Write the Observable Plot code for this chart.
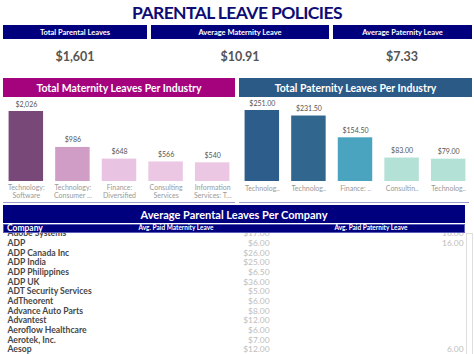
<!DOCTYPE html>
<html><head><meta charset="utf-8">
<script src="https://cdn.jsdelivr.net/npm/d3@7"></script>
<script src="https://cdn.jsdelivr.net/npm/@observablehq/plot@0.6"></script>
<style>
body{margin:0;width:474px;height:354px;overflow:hidden;background:#fff;font-family:Lato,"Noto Sans",sans-serif;position:relative}
.abs{position:absolute}
.bar{background:#00007f;color:#fff;font-weight:700;display:flex;align-items:center;justify-content:center}
.kpi{color:#555;font-weight:700;font-size:12.5px;text-align:center}
svg{display:block}
</style></head>
<body>
<div id="root"></div>
<script>
// ---- data ----
const kpiLabels = ["Total Parental Leaves", "Average Maternity Leave", "Average Paternity Leave"];
const kpiValues = ["$1,601", "$10.91", "$7.33"];

const matIndustries = ["Technology: Software", "Technology: Consumer ...", "Finance: Diversified", "Consulting Services", "Information Services: T..."];
const matLabels = ["Technology:\nSoftware", "Technology:\nConsumer ...", "Finance:\nDiversified", "Consulting\nServices", "Information\nServices: T..."];
const matValues = [2026, 986, 648, 566, 540];

const patIndustries = ["Technology: Software", "Technology: Consumer ...", "Finance: Diversified", "Consulting Services", "Technology: Other"];
const patLabels = ["Technolog..", "Technolog..", "Finance: ..", "Consultin..", "Technolog.."];
const patValues = [251.0, 231.5, 154.5, 83.0, 79.0];

const companies = ["Adobe Systems", "ADP", "ADP Canada Inc", "ADP India", "ADP Philippines", "ADP UK", "ADT Security Services", "AdTheorent", "Advance Auto Parts", "Advantest", "Aeroflow Healthcare", "Aerotek, Inc.", "Aesop"];
const avgMaternity = [17, 6, 26, 25, 6.5, 36, 5, 6, 8, 12, 6, 7, 12];
const avgPaternity = [16, 16, null, null, null, null, null, null, null, null, null, null, 6];

// ---- styles ----
const matPalette = ["#784878", "#d09dc6", "#e9c3e2", "#ebc7e4", "#ebc7e4"];
const patPalette = ["#2d5e8b", "#31668f", "#4ba4bf", "#b4e1d5", "#b4e1d5"];
const FONT = "Lato, 'Noto Sans', sans-serif";

const root = document.getElementById("root");
function div(style, html, cls) {
  const d = document.createElement("div");
  d.className = "abs " + (cls || "");
  Object.assign(d.style, style);
  d.innerHTML = html || "";
  root.appendChild(d);
  return d;
}

// Title
div({left:"0px", top:"2px", width:"474px", textAlign:"center", color:"#0d0d75", fontWeight:"700", fontSize:"17.5px", letterSpacing:"-0.6px"}, "PARENTAL LEAVE POLICIES");

// KPI bars
const kpiBoxes = [[3,147,75],[151,329,240],[333,472,402]];
kpiBoxes.forEach(([l,r,c],i) => {
  div({left:l+"px", top:"25px", width:(r-l)+"px", height:"14px", fontSize:"7.5px"}, kpiLabels[i], "bar");
  div({left:(c-60)+"px", top:"49px", width:"120px"}, kpiValues[i], "kpi");
});

// Chart headers
div({left:"3px", top:"78px", width:"232px", height:"19px", background:"#a5037d", fontSize:"10.5px"}, "Total Maternity Leaves Per Industry", "bar");
div({left:"239px", top:"78px", width:"233px", height:"19px", background:"#2c5a86", fontSize:"10.5px"}, "Total Paternity Leaves Per Industry", "bar");

function barChart(cats, labels, values, palette, fmt, left, marginTop, twoLine) {
  const data = cats.map((c,i) => ({cat:c, label:labels[i], value:values[i]}));
  const chart = Plot.plot({
    width: 238, height: 106,
    marginLeft: 3, marginRight: 3, marginTop: marginTop, marginBottom: 22,
    style: {fontFamily: FONT, background: "transparent", overflow: "visible"},
    x: {domain: cats, paddingInner: 0.26, paddingOuter: 0.12, round: false, axis: null},
    y: {domain: [0, d3.max(values)], axis: null},
    color: {domain: cats, range: palette},
    marks: [
      Plot.barY(data, {x: "cat", y: "value", fill: "cat"}),
      Plot.text(data, {x: "cat", y: "value", text: d => fmt(d.value), dy: -5, fontSize: 7, fill: "#555", lineAnchor: "bottom"}),
      Plot.text(data, {x: "cat", text: "label", frameAnchor: "bottom", dy: twoLine ? 3 : 4, lineAnchor: "top", fontSize: 7, fill: "#999", lineHeight: 1.15})
    ]
  });
  div({left:left+"px", top:"97px"}).appendChild(chart);
}
barChart(matIndustries, matLabels, matValues, matPalette, v => "$" + d3.format(",")(v), 0, 14, true);
barChart(patIndustries, patLabels, patValues, patPalette, v => "$" + d3.format(".2f")(v), 236, 13, false);

// bottom lines under charts
div({left:"3px", top:"202px", width:"232px", height:"1px", background:"#9c9ccf"});
div({left:"239px", top:"202px", width:"230px", height:"1px", background:"#9c9ccf"});

// Table
const rows = companies.map((c,i) => ({company:c, mat:avgMaternity[i], pat:avgPaternity[i]}));
const table = Plot.plot({
  width: 466, height: 129,
  margin: 0,
  style: {fontFamily: FONT, background: "transparent"},
  x: {axis: null},
  y: {type: "band", domain: companies, range: [3.2, 128.9], padding: 0, round: false, axis: null},
  marks: [
    Plot.text(rows, {y: "company", text: "company", frameAnchor: "left", dx: 7, textAnchor: "start", fontSize: 8.6, fontWeight: 700, fill: "#474747"}),
    Plot.text(rows, {y: "company", text: d => "$" + d3.format(".2f")(d.mat), frameAnchor: "left", dx: 269, textAnchor: "end", fontSize: 8.4, fill: "#bdbdbd"}),
    Plot.text(rows.filter(d => d.pat != null), {y: "company", text: d => d3.format(".2f")(d.pat), frameAnchor: "left", dx: 463, textAnchor: "end", fontSize: 8.4, fill: "#bdbdbd"})
  ]
});
div({left:"0px", top:"225px"}).appendChild(table);

// scrollbar track
div({left:"466px", top:"233px", width:"5px", height:"125px", border:"1px solid #dedede", borderBottom:"none"});

// Table headers
div({left:"3px", top:"205px", width:"462px", height:"18px", fontSize:"11px"}, "Average Parental Leaves Per Company", "bar");
const hdr = div({left:"3px", top:"224px", width:"460px", height:"7px", background:"#00007f", border:"1px solid #5a5ab8", color:"#fff", fontWeight:"700", fontSize:"6.5px"});
hdr.innerHTML = '<span class="abs" style="left:3px;top:-2px;font-size:8.5px;">Company</span>' +
  '<span class="abs" style="left:112px;width:120px;text-align:center;top:-1px;">Avg. Paid Maternity Leave</span>' +
  '<span class="abs" style="left:307px;width:120px;text-align:center;top:-1px;">Avg. Paid Paternity Leave</span>';
</script>
</body></html>
